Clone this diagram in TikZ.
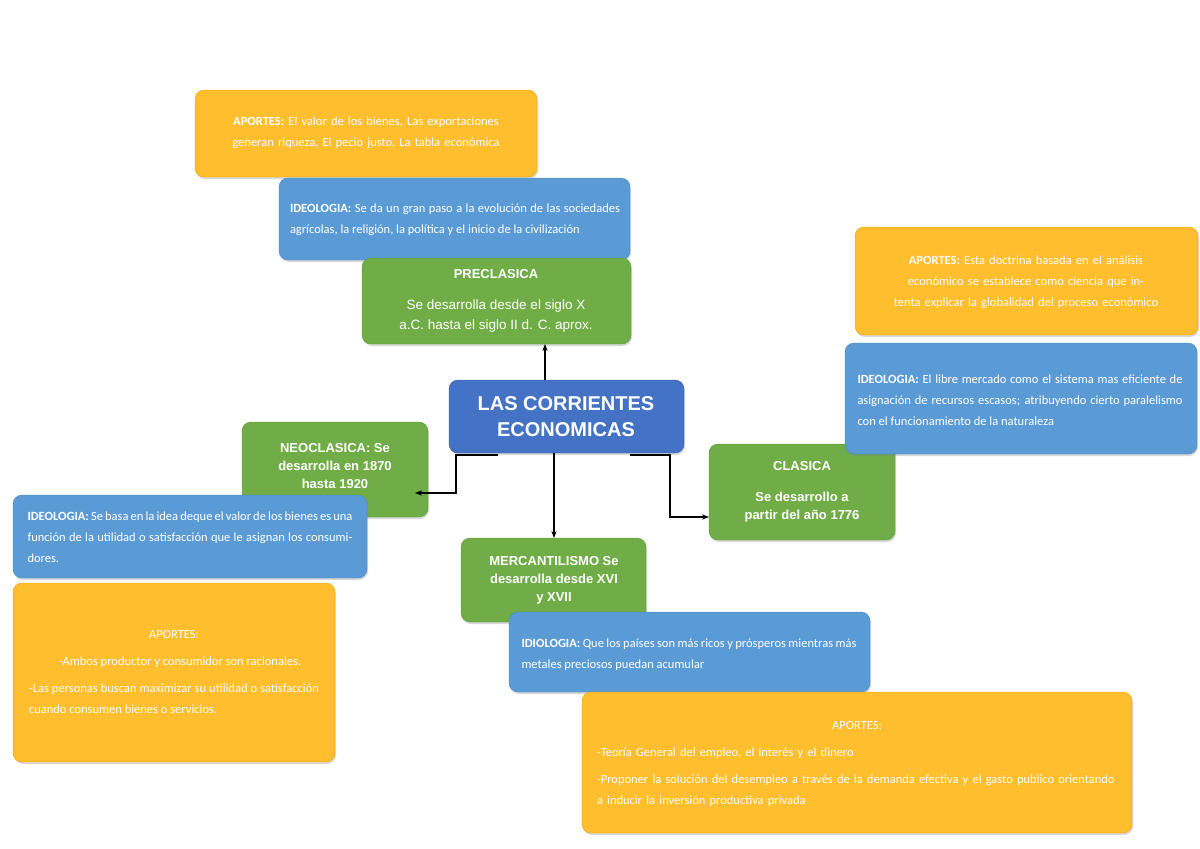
\documentclass[tikz,border=0pt]{standalone}
\usepackage{fontspec}
\setmainfont{Carlito}
\newfontfamily\arial{Liberation Sans}
\usetikzlibrary{arrows.meta,shadows}
\definecolor{org}{HTML}{FFBE2E}
\definecolor{orgd}{HTML}{F0A500}
\definecolor{blu}{HTML}{5B9BD5}
\definecolor{blud}{HTML}{4A86C0}
\definecolor{grn}{HTML}{70AD47}
\definecolor{grnd}{HTML}{5E9A3A}
\definecolor{cen}{HTML}{4472C4}
\begin{document}
\begin{tikzpicture}[x=1pt,y=-1pt,
 box/.style={rounded corners=9pt,drop shadow={shadow xshift=1pt,shadow yshift=-2pt,opacity=.3}},
 ob/.style={box,fill=org,draw=orgd},
 bb/.style={box,fill=blu,draw=blud},
 gb/.style={box,fill=grn,draw=grnd},
 t/.style={text=white,font=\fontsize{12.5}{21}\selectfont,align=center},
 tj/.style={text=white,font=\fontsize{12.5}{21}\selectfont,align=justify},
 g/.style={text=white,font=\arial\bfseries\fontsize{13}{18}\selectfont,align=center},
 ar/.style={very thick,-{Stealth[length=7pt]}}]
\useasboundingbox (0,0) rectangle (1200,849);
% preclasica
\draw[ob] (195,90) rectangle (537,177);
\node[t,text width=320pt] (pa) at (366,133) {\textbf{APORTES:} El valor de los bienes, Las exportaciones generan riqueza, El pecio justo, La tabla económica};
\draw[bb] (279,178) rectangle (630,260);
\node[tj,text width=330pt] (pi) at (455,220) {\textbf{IDEOLOGIA:} Se da un gran paso a la evolución de las sociedades agrícolas, la religión, la política y el inicio de la civilización};
\draw[gb] (362,258) rectangle (631,344);
\node[g] (pre) at (496,274) {PRECLASICA};
\node[text=white,font=\arial\fontsize{13.5}{20}\selectfont,align=center] (pred) at (496,316) {Se desarrolla desde el siglo X\\a.C. hasta el siglo II d. C. aprox.};
\coordinate (preb) at (545,344);
% central
\draw[box,fill=cen,draw=cen!80!black] (449,380) rectangle (684,453);
\node[text=white,font=\arial\bfseries\fontsize{20}{26}\selectfont,align=center] (c) at (566,417) {LAS CORRIENTES\\ECONOMICAS};
\coordinate (ct) at (545,380);
% neoclasica
\draw[gb] (242,422) rectangle (428,517);
\node[g] (neo) at (335,466) {NEOCLASICA: Se\\desarrolla en 1870\\hasta 1920};
\draw[bb] (13,495) rectangle (367,578);
\node[tj,text width=325pt] (ni) at (190,537) {\textbf{IDEOLOGIA:} Se basa en la idea deque el valor de los bienes es una función de la utilidad o satisfacción que le asignan los consumidores.};
\draw[ob] (13,583) rectangle (335,762);
\node[tj,text width=290pt] (na) at (174,672) {\centering APORTES:\par\vspace{6pt}\hspace*{12pt}-Ambos productor y consumidor son racionales.\par\vspace{6pt}-Las personas buscan maximizar su utilidad o satisfacción cuando consumen bienes o servicios.};
% mercantilismo
\draw[gb] (461,538) rectangle (646,622);
\node[g] (mer) at (554,580) {MERCANTILISMO Se\\desarrolla desde XVI\\y XVII};
\draw[bb] (509,612) rectangle (870,692);
\node[tj,text width=335pt] (mi) at (689,655) {\textbf{IDIOLOGIA:} Que los países son más ricos y prósperos mientras más metales preciosos puedan acumular};
\draw[ob] (582,692) rectangle (1132,833);
\node[text=white,font=\fontsize{12.5}{21}\selectfont,text width=520pt,align=left] (ma) at (857,764) {\centering APORTES:\par\vspace{6pt}\raggedright -Teoría General del empleo, el interés y el dinero\par\vspace{6pt}-Proponer la solución del desempleo a través de la demanda efectiva y el gasto publico orientando a inducir la inversión productiva privada};
% clasica
\draw[gb] (709,444) rectangle (895,540);
\node[g] (cla) at (802,466) {CLASICA};
\node[g] (clad) at (802,507) {Se desarrollo a\\partir del año 1776};
\draw[ob] (855,227) rectangle (1198,335);
\node[t,text width=320pt] (ca) at (1026,282) {\textbf{APORTES:} Esta doctrina basada en el análisis económico se establece como ciencia que intenta explicar la globalidad del proceso económico};
\draw[bb] (845,343) rectangle (1197,454);
\node[tj,text width=325pt] (ci) at (1020,400) {\textbf{IDEOLOGIA:} El libre mercado como el sistema mas eficiente de asignación de recursos escasos; atribuyendo cierto paralelismo con el funcionamiento de la naturaleza};
% connectors
\coordinate (l1) at (498,455); \coordinate (l2) at (456,455); \coordinate (l3) at (456,493); \coordinate (ne) at (415,493);
\coordinate (r1) at (630,455); \coordinate (r2) at (670,455); \coordinate (r3) at (670,517); \coordinate (ce) at (709,517);
\coordinate (m1) at (554,453); \coordinate (me) at (554,538);
\draw[ar] (ct) -- (preb);
\draw[ar] (l1) -- (l2) -- (l3) -- (ne);
\draw[ar] (r1) -- (r2) -- (r3) -- (ce);
\draw[ar] (m1) -- (me);
\end{tikzpicture}
\end{document}
